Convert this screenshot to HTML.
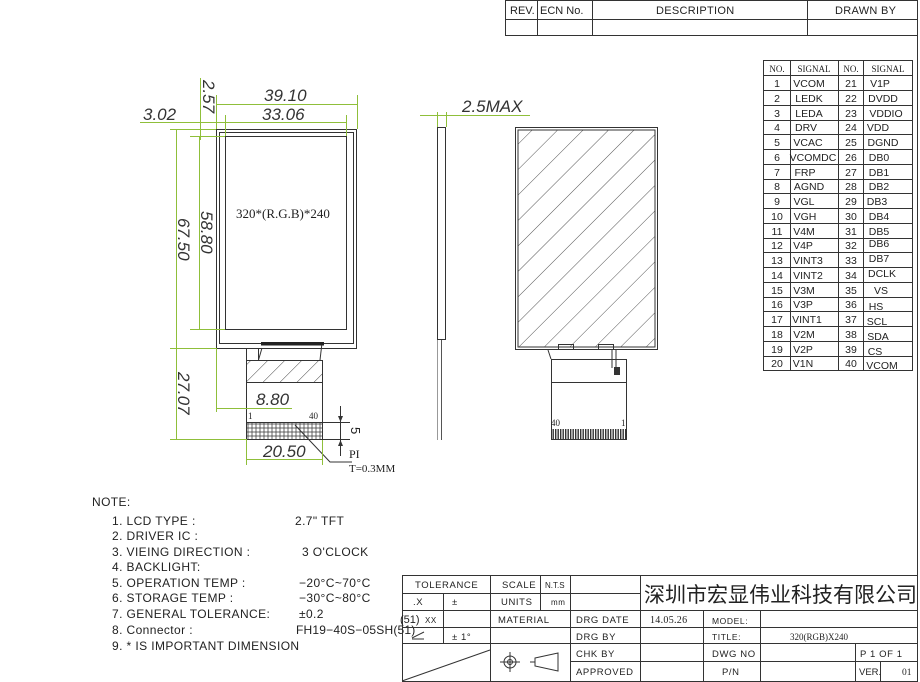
<!DOCTYPE html>
<html><head><meta charset="utf-8"><style>
html,body{margin:0;padding:0;background:#fff}
svg{display:block}
text{font-family:"Liberation Sans","Noto Sans CJK SC",sans-serif;fill:#222}
.s{font-family:"Liberation Serif","Noto Serif CJK SC",serif}
.g{stroke:#8fbf3a;stroke-width:1;fill:none}
.gt{fill:#333;font-style:italic;font-size:17px}
.k{stroke:#333;stroke-width:1;fill:none}
</style></head><body>
<svg width="920" height="682" viewBox="0 0 920 682" xmlns="http://www.w3.org/2000/svg">
<defs>
<pattern id="h" width="12" height="12" patternUnits="userSpaceOnUse" patternTransform="rotate(45)">
<line x1="0" y1="0" x2="0" y2="12" stroke="#444" stroke-width="1"/></pattern>
<pattern id="h2" width="18" height="18" patternUnits="userSpaceOnUse" patternTransform="rotate(45)">
<line x1="0" y1="0" x2="0" y2="18" stroke="#555" stroke-width="1"/></pattern>
<pattern id="grid" width="4" height="4" patternUnits="userSpaceOnUse">
<rect width="4" height="4" fill="#fff" stroke="#444" stroke-width="0.8"/></pattern>
<pattern id="pins" width="2.5" height="10" patternUnits="userSpaceOnUse">
<rect width="1.4" height="10" fill="#333"/></pattern>
</defs>
<line x1="917.5" y1="0" x2="917.5" y2="682" class="k"/>
<g class="k">
<rect x="505.5" y="0.5" width="412" height="35"/>
<line x1="505" y1="19.5" x2="917" y2="19.5"/>
<line x1="537.5" y1="0" x2="537.5" y2="35"/>
<line x1="592.5" y1="0" x2="592.5" y2="35"/>
<line x1="807.5" y1="0" x2="807.5" y2="35"/>
</g>
<text x="510" y="14" font-size="11">REV.</text>
<text x="540" y="14" font-size="11">ECN  No.</text>
<text x="656" y="14" font-size="11" letter-spacing="0.3">DESCRIPTION</text>
<text x="835" y="14" font-size="11" letter-spacing="0.3">DRAWN  BY</text>

<g class="k">
<rect x="216.5" y="129.5" width="140" height="219"/>
<rect x="219.5" y="132.5" width="134" height="211"/>
<rect x="225.5" y="136.5" width="121" height="193"/>
<line x1="270" y1="129.5" x2="300" y2="129.5"/>
<path d="M246.5 348 V360 M258.5 348 V360"/>
<path d="M262 348 L258.5 360"/>
<path d="M322 343 L320 360"/>
<rect x="246.5" y="360.5" width="76" height="79"/>
<line x1="246" y1="382.5" x2="322" y2="382.5"/>
</g>
<rect x="261" y="342" width="63" height="3.5" fill="#222"/>
<rect x="247" y="361" width="75" height="21" fill="url(#h)"/>
<rect x="247" y="422" width="75" height="17" fill="url(#grid)"/>
<line x1="246" y1="422.5" x2="322" y2="422.5" class="k"/>
<text x="248" y="419" class="s" font-size="9">1</text>
<text x="309" y="419" class="s" font-size="9">40</text>
<text x="236" y="218" class="s" font-size="13">320*(R.G.B)*240</text>
<path d="M295 425 L330 462 H352" class="k"/>
<text x="349" y="458" class="s" font-size="12">PI</text>
<text x="349" y="472" class="s" font-size="11">T=0.3MM</text>

<g class="g">
<line x1="200.5" y1="78" x2="200.5" y2="140"/>
<line x1="216.5" y1="95" x2="216.5" y2="129"/>
<line x1="357.5" y1="95" x2="357.5" y2="129"/>
<line x1="216" y1="104.5" x2="357" y2="104.5"/>
<line x1="225.5" y1="115" x2="225.5" y2="136"/>
<line x1="346.5" y1="115" x2="346.5" y2="136"/>
<line x1="140" y1="122.5" x2="346" y2="122.5"/>
<line x1="170" y1="129.5" x2="216" y2="129.5"/>
<line x1="190" y1="136.5" x2="225" y2="136.5"/>
<line x1="190" y1="329.5" x2="225" y2="329.5"/>
<line x1="170" y1="348.5" x2="216" y2="348.5"/>
<line x1="170" y1="439.5" x2="246" y2="439.5"/>
<line x1="176.5" y1="129" x2="176.5" y2="439"/>
<line x1="199.5" y1="136" x2="199.5" y2="329"/>
<line x1="216.5" y1="348" x2="216.5" y2="412"/>
<line x1="216" y1="408.5" x2="292" y2="408.5"/>
<line x1="246.5" y1="439" x2="246.5" y2="465"/>
<line x1="322.5" y1="439" x2="322.5" y2="465"/>
<line x1="246" y1="459.5" x2="322" y2="459.5"/>
</g>
<text class="gt" x="264" y="101">39.10</text>
<text class="gt" x="262" y="120">33.06</text>
<text class="gt" x="143" y="120">3.02</text>
<text class="gt" transform="translate(203,80) rotate(90)">2.57</text>
<text class="gt" transform="translate(178,218) rotate(90)">67.50</text>
<text class="gt" transform="translate(201,211) rotate(90)">58.80</text>
<text class="gt" transform="translate(178,372) rotate(90)">27.07</text>
<text class="gt" x="256" y="405">8.80</text>
<text class="gt" x="263" y="457">20.50</text>
<g class="k">
<line x1="322" y1="422.5" x2="350" y2="422.5"/>
<line x1="322" y1="439.5" x2="350" y2="439.5"/>
<line x1="340.5" y1="406" x2="340.5" y2="456"/>
</g>
<path d="M338 416 L340.5 422 L343 416Z M338 446 L340.5 440 L343 446Z" fill="#333"/>
<text x="345" y="427" font-size="13" transform="rotate(90 348 430)" fill="#333">5</text>

<rect x="437.5" y="127.5" width="8" height="212" class="k"/>
<line x1="441.5" y1="340" x2="441.5" y2="440" stroke="#555"/>
<line x1="437.5" y1="340" x2="437.5" y2="440" stroke="#999"/>
<g class="g">
<line x1="420" y1="115.5" x2="530" y2="115.5"/>
<line x1="437.5" y1="112" x2="437.5" y2="127"/>
<line x1="446.5" y1="112" x2="446.5" y2="127"/>
</g>
<text class="gt" x="462" y="112">2.5MAX</text>

<rect x="515.5" y="127.5" width="142" height="222" class="k"/>
<rect x="518" y="130" width="137" height="217" fill="url(#h2)" stroke="#333"/>
<g class="k">
<rect x="558.5" y="344.5" width="15" height="5"/>
<rect x="598.5" y="344.5" width="15" height="5"/>
<path d="M548 350 L551 359 M612 350 V368 M616 350 V368"/>
<rect x="551.5" y="359.5" width="75" height="80"/>
<line x1="551" y1="382.5" x2="626" y2="382.5"/>
</g>
<rect x="614" y="367" width="6" height="8" fill="#333"/>
<rect x="552" y="429" width="74" height="10" fill="url(#pins)"/>
<text x="551" y="426" class="s" font-size="9">40</text>
<text x="621" y="426" class="s" font-size="9">1</text>

<g class="k">
<rect x="763.5" y="60.5" width="149" height="310"/>
<line x1="790.5" y1="60" x2="790.5" y2="370"/>
<line x1="838.5" y1="60" x2="838.5" y2="370"/>
<line x1="863.5" y1="60" x2="863.5" y2="370"/>
</g>
<g font-size="10.5" text-anchor="middle">
<text x="777" y="72" class="s" font-size="9">NO.</text><text x="814" y="72" class="s" font-size="9">SIGNAL</text>
<text x="851" y="72" class="s" font-size="9">NO.</text><text x="888" y="72" class="s" font-size="9">SIGNAL</text>
</g>
<g stroke="#333" stroke-width="1">
<line x1="763" y1="75.5" x2="913" y2="75.5"/>
<line x1="763" y1="90.5" x2="913" y2="90.5"/><line x1="763" y1="105.5" x2="913" y2="105.5"/>
<line x1="763" y1="120.5" x2="913" y2="120.5"/><line x1="763" y1="134.5" x2="913" y2="134.5"/>
<line x1="763" y1="149.5" x2="913" y2="149.5"/><line x1="763" y1="164.5" x2="913" y2="164.5"/>
<line x1="763" y1="179.5" x2="913" y2="179.5"/><line x1="763" y1="193.5" x2="913" y2="193.5"/>
<line x1="763" y1="208.5" x2="913" y2="208.5"/><line x1="763" y1="223.5" x2="913" y2="223.5"/>
<line x1="763" y1="238.5" x2="913" y2="238.5"/><line x1="763" y1="252.5" x2="913" y2="252.5"/>
<line x1="763" y1="267.5" x2="913" y2="267.5"/><line x1="763" y1="282.5" x2="913" y2="282.5"/>
<line x1="763" y1="297.5" x2="913" y2="297.5"/><line x1="763" y1="311.5" x2="913" y2="311.5"/>
<line x1="763" y1="326.5" x2="913" y2="326.5"/><line x1="763" y1="341.5" x2="913" y2="341.5"/>
<line x1="763" y1="356.5" x2="913" y2="356.5"/>
</g>
<g font-size="10.5" text-anchor="middle">
<text x="777" y="87">1</text><text x="809" y="87">VCOM</text><text x="851" y="87">21</text><text x="880" y="87">V1P</text>
<text x="777" y="102">2</text><text x="809" y="102">LEDK</text><text x="851" y="102">22</text><text x="883" y="102">DVDD</text>
<text x="777" y="117">3</text><text x="809" y="117">LEDA</text><text x="851" y="117">23</text><text x="886" y="117">VDDIO</text>
<text x="777" y="131">4</text><text x="806" y="131">DRV</text><text x="851" y="131">24</text><text x="878" y="131">VDD</text>
<text x="777" y="146">5</text><text x="808" y="146">VCAC</text><text x="851" y="146">25</text><text x="883" y="146">DGND</text>
<text x="777" y="161">6</text><text x="813" y="161">VCOMDC</text><text x="851" y="161">26</text><text x="879" y="161">DB0</text>
<text x="777" y="176">7</text><text x="805" y="176">FRP</text><text x="851" y="176">27</text><text x="879" y="176">DB1</text>
<text x="777" y="190">8</text><text x="809" y="190">AGND</text><text x="851" y="190">28</text><text x="879" y="190">DB2</text>
<text x="777" y="205">9</text><text x="804" y="205">VGL</text><text x="851" y="205">29</text><text x="877" y="205">DB3</text>
<text x="777" y="220">10</text><text x="805" y="220">VGH</text><text x="851" y="220">30</text><text x="879" y="220">DB4</text>
<text x="777" y="235">11</text><text x="804" y="235">V4M</text><text x="851" y="235">31</text><text x="879" y="235">DB5</text>
<text x="777" y="249">12</text><text x="803" y="249">V4P</text><text x="851" y="249">32</text><text x="879" y="247">DB6</text>
<text x="777" y="264">13</text><text x="808" y="264">VINT3</text><text x="851" y="264">33</text><text x="879" y="262">DB7</text>
<text x="777" y="279">14</text><text x="808" y="279">VINT2</text><text x="851" y="279">34</text><text x="882" y="277">DCLK</text>
<text x="777" y="294">15</text><text x="804" y="294">V3M</text><text x="851" y="294">35</text><text x="881" y="294">VS</text>
<text x="777" y="308">16</text><text x="803" y="308">V3P</text><text x="851" y="308">36</text><text x="876" y="310">HS</text>
<text x="777" y="323">17</text><text x="807" y="323">VINT1</text><text x="851" y="323">37</text><text x="877" y="325">SCL</text>
<text x="777" y="338">18</text><text x="804" y="338">V2M</text><text x="851" y="338">38</text><text x="878" y="340">SDA</text>
<text x="777" y="353">19</text><text x="803" y="353">V2P</text><text x="851" y="353">39</text><text x="875" y="355">CS</text>
<text x="777" y="367">20</text><text x="803" y="367">V1N</text><text x="851" y="367">40</text><text x="882" y="369">VCOM</text>
</g>

<g font-size="12" fill="#222" letter-spacing="0.4">
<text x="92" y="506">NOTE:</text>
<text x="112" y="525">1. LCD TYPE :</text><text x="295" y="525">2.7"   TFT</text>
<text x="112" y="540">2. DRIVER IC :</text>
<text x="112" y="556">3. VIEING DIRECTION :</text><text x="302" y="556">3  O'CLOCK</text>
<text x="112" y="571">4. BACKLIGHT:</text>
<text x="112" y="587">5. OPERATION TEMP :</text><text x="299" y="587">−20°C~70°C</text>
<text x="112" y="602">6. STORAGE TEMP :</text><text x="299" y="602">−30°C~80°C</text>
<text x="112" y="618">7. GENERAL TOLERANCE:</text><text x="299" y="618">±0.2</text>
<text x="112" y="634">8. Connector :</text><text x="296" y="634" letter-spacing="0.2">FH19−40S−05SH(51)</text>
<text x="112" y="650">9. * IS IMPORTANT DIMENSION</text>
</g>

<g class="k">
<rect x="402.5" y="575.5" width="515" height="106"/>
<line x1="402" y1="593.5" x2="640" y2="593.5"/>
<line x1="402" y1="610.5" x2="917" y2="610.5"/>
<line x1="402" y1="627.5" x2="917" y2="627.5"/>
<line x1="402" y1="643.5" x2="917" y2="643.5"/>
<line x1="570" y1="661.5" x2="917" y2="661.5"/>
<line x1="443.5" y1="593" x2="443.5" y2="643"/>
<line x1="490.5" y1="575" x2="490.5" y2="682"/>
<line x1="540.5" y1="575" x2="540.5" y2="610"/>
<line x1="570.5" y1="575" x2="570.5" y2="682"/>
<line x1="640.5" y1="575" x2="640.5" y2="682"/>
<line x1="703.5" y1="610" x2="703.5" y2="682"/>
<line x1="760.5" y1="610" x2="760.5" y2="682"/>
<line x1="855.5" y1="643" x2="855.5" y2="682"/>
<line x1="880.5" y1="661" x2="880.5" y2="682"/>
<line x1="402" y1="681" x2="490" y2="650"/>
<line x1="412" y1="638" x2="424" y2="632"/><line x1="412" y1="639" x2="424" y2="639"/>
<circle cx="510" cy="662" r="6"/><circle cx="510" cy="662" r="2.5"/>
<line x1="500" y1="662" x2="520" y2="662"/><line x1="510" y1="652" x2="510" y2="672"/>
<path d="M535 658 L558 653 V671 L535 666 Z M530 662 H535"/>
</g>
<g font-size="9.5" fill="#222" letter-spacing="0.6">
<text x="415" y="588">TOLERANCE</text>
<text x="502" y="588">SCALE</text><text x="545" y="588" font-size="8" letter-spacing="0">N.T.S</text>
<text x="413" y="605">.X</text><text x="452" y="605">±</text>
<text x="501" y="605">UNITS</text><text x="551" y="605" font-size="8">mm</text>
<text x="425" y="623" font-size="8">XX</text><text x="400" y="623" font-size="11" letter-spacing="0">(51)</text>
<text x="452" y="640">±  1°</text>
<text x="498" y="623">MATERIAL</text>
<text x="576" y="623">DRG  DATE</text><text x="650" y="623" class="s" font-size="10" letter-spacing="0.3">14.05.26</text>
<text x="712" y="624" font-size="8.5">MODEL:</text>
<text x="576" y="640">DRG  BY</text><text x="712" y="640" font-size="8.5">TITLE:</text>
<text x="790" y="640" class="s" font-size="9" letter-spacing="0">320(RGB)X240</text>
<text x="576" y="657">CHK  BY</text><text x="712" y="657">DWG  NO</text>
<text x="860" y="657">P  1  OF  1</text>
<text x="576" y="675">APPROVED</text><text x="722" y="675">P/N</text>
<text x="859" y="675" letter-spacing="0">VER.</text><text x="902" y="675" class="s" letter-spacing="0">01</text>
</g>
<text x="644" y="602" font-size="21" font-family="'Noto Sans CJK SC',sans-serif" fill="#222">深圳市宏显伟业科技有限公司</text>
</svg>
</body></html>
